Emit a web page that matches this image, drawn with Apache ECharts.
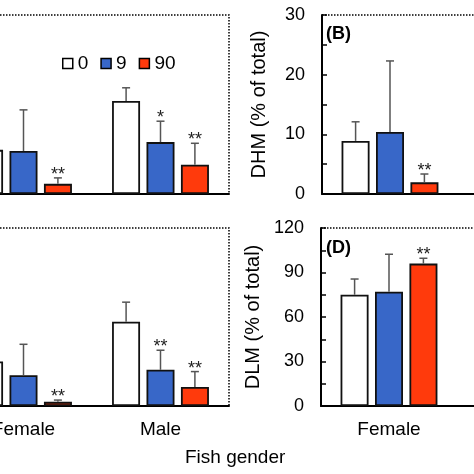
<!DOCTYPE html>
<html>
<head>
<meta charset="utf-8">
<script src="https://cdn.jsdelivr.net/npm/echarts@6/dist/echarts.min.js"></script>
<style>
  html, body {margin: 0; padding: 0; background: #fff;}
  #chart {width: 474px; height: 474px;}
</style>
</head>
<body>
<div id="chart"></div>
<script>
const genders = ['Female', 'Male']
const doses = ['0', '9', '90']
const doseColors = ['#ffffff', '#3867c8', '#ff3a0c']
const font = 'Liberation Sans, Arial, sans-serif'

// panel A (y axis is outside the crop), rows = dose, cols = gender
const aMean = [[7.4, 15.6], [7.2, 8.7], [1.7, 4.9]]
const aSd = [[null, 2.2], [6.9, 3.5], [1.0, 3.6]]
const aSig = [['', ''], ['', '*'], ['**', '**']]

// panel B - DHM
const bMean = [[8.9, null], [10.4, null], [1.95, null]]
const bSd = [[3.2, null], [11.9, null], [1.4, null]]
const bSig = [['', ''], ['', ''], ['**', '']]

// panel C (y axis is outside the crop)
const cMean = [[7.5, 14.2], [5.2, 6.1], [0.7, 3.2]]
const cSd = [[null, 3.3], [5.2, 3.3], [0.3, 2.6]]
const cSig = [['', ''], ['', '**'], ['**', '**']]

// panel D - DLM
const dMean = [[75, null], [77, null], [96, null]]
const dSd = [[10.6, null], [25.3, null], [3.6, null]]
const dSig = [['', ''], ['', ''], ['**', '']]

const panels = [
  {grid: {left: -45, top: 15, width: 274, height: 179}, max: 30, interval: 10, name: '', cats: false, mean: aMean, sd: aSd, sig: aSig},
  {grid: {left: 322, top: 15, width: 272, height: 179}, max: 30, interval: 10, name: 'DHM (% of total)', cats: false, mean: bMean, sd: bSd, sig: bSig},
  {grid: {left: -45, top: 228, width: 274, height: 178}, max: 30, interval: 10, name: '', cats: true, mean: cMean, sd: cSd, sig: cSig},
  {grid: {left: 321, top: 228, width: 272, height: 178}, max: 120, interval: 30, name: 'DLM (% of total)', cats: true, mean: dMean, sd: dSd, sig: dSig},
]

const barWidth = 28
const barStep = 34.4

const chart = echarts.init(document.getElementById('chart'))

const grids = [], xAxes = [], yAxes = [], series = []

panels.forEach((p, i) => {
  grids.push(Object.assign({
    show: true, borderColor: '#000', borderWidth: 1.5, borderType: 'dotted', backgroundColor: 'transparent',
    containLabel: false, outerBoundsMode: 'none'
  }, p.grid))

  xAxes.push({
    type: 'category', gridIndex: i, data: genders,
    axisLine: {lineStyle: {color: '#000', width: 2}},
    axisTick: {inside: true, length: 5, lineStyle: {color: '#000', width: 1.5}},
    axisLabel: {show: p.cats, color: '#000', fontSize: 19, fontFamily: font, margin: 14},
  })

  yAxes.push({
    type: 'value', gridIndex: i, min: 0, max: p.max, interval: p.interval,
    name: p.name, nameLocation: 'middle', nameGap: 53,
    nameTextStyle: {color: '#000', fontSize: 20, fontFamily: font},
    axisLine: {show: true, lineStyle: {color: '#000', width: 2}},
    axisTick: {show: true, inside: true, length: 5, lineStyle: {color: '#000', width: 1.5}},
    minorTick: {show: true, splitNumber: 2, length: 5, lineStyle: {color: '#000', width: 1.5}},
    splitLine: {show: false},
    axisLabel: {color: '#000', fontSize: 18, fontFamily: font, margin: 17},
  })

  doses.forEach((d, k) => {
    series.push({
      type: 'bar', name: d, xAxisIndex: i, yAxisIndex: i,
      data: p.mean[k], barWidth: barWidth, barGap: '23%',
      itemStyle: {color: doseColors[k], borderColor: '#111', borderWidth: 1.8},
    })
  })

  const rows = []
  doses.forEach((d, k) => {
    genders.forEach((g, j) => {
      if (p.mean[k][j] == null) return
      rows.push({g: j, k: k, mean: p.mean[k][j], sd: p.sd[k][j], sig: p.sig[k][j]})
    })
  })

  series.push({
    type: 'custom', xAxisIndex: i, yAxisIndex: i, z: 5,
    data: rows.map(r => [r.g, r.mean]),
    renderItem: (params, api) => {
      const r = rows[params.dataIndex]
      const base = api.coord([r.g, r.mean])
      const x = base[0] + (r.k - 1) * barStep
      let topY = base[1]
      const children = []
      if (r.sd != null) {
        topY = api.coord([r.g, r.mean + r.sd])[1]
        const st = {stroke: '#555', lineWidth: 1.5}
        children.push({type: 'line', shape: {x1: x, y1: base[1], x2: x, y2: topY}, style: st})
        children.push({type: 'line', shape: {x1: x - 4, y1: topY, x2: x + 4, y2: topY}, style: st})
      }
      if (r.sig) {
        children.push({type: 'text', style: {
          text: r.sig, x: x, y: topY - 3, align: 'center', verticalAlign: 'middle',
          fontSize: 18, fontFamily: font, fill: '#222'
        }})
      }
      return {type: 'group', children: children}
    },
  })
})

chart.setOption({
  animation: false,
  backgroundColor: '#fff',
  grid: grids,
  xAxis: xAxes,
  yAxis: yAxes,
  legend: {
    data: doses, left: 62, top: 54, padding: 0, icon: 'rect', itemWidth: 10, itemHeight: 10, itemGap: 12,
    itemStyle: {borderColor: '#000', borderWidth: 1.5},
    textStyle: {color: '#000', fontSize: 19, fontFamily: font},
  },
  graphic: [
    {type: 'text', left: 326, top: 25, style: {text: '(B)', fontSize: 18, fontWeight: 'bold', fontFamily: font, fill: '#000'}},
    {type: 'text', left: 326, top: 239, style: {text: '(D)', fontSize: 18, fontWeight: 'bold', fontFamily: font, fill: '#000'}},
    {type: 'text', left: 185, top: 448, style: {text: 'Fish gender', fontSize: 19, fontFamily: font, fill: '#000'}},
  ],
  series: series,
})

window.addEventListener('resize', () => chart.resize())
</script>
</body>
</html>
